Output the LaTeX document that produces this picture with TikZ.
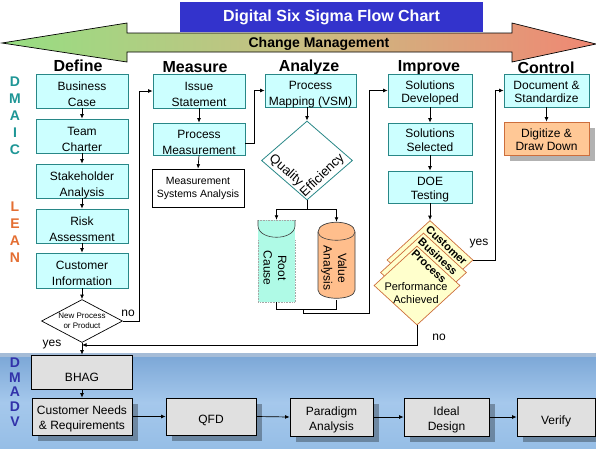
\documentclass[tikz,border=0pt]{standalone}
\usepackage{fontspec}
\setmainfont{Liberation Sans}
\usetikzlibrary{arrows.meta,shapes.geometric,shadows}
\definecolor{cyanfill}{RGB}{204,255,255}
\definecolor{cyanborder}{RGB}{40,135,135}
\definecolor{grayfill}{RGB}{224,224,224}
\definecolor{titleblue}{RGB}{51,51,204}
\definecolor{arrgreen}{RGB}{150,222,130}
\definecolor{arrmid}{RGB}{200,190,130}
\definecolor{arrred}{RGB}{240,135,115}
\definecolor{tealtxt}{RGB}{30,150,150}
\definecolor{orangetxt}{RGB}{228,110,50}
\definecolor{bluetxt}{RGB}{50,50,170}
\definecolor{orfill}{RGB}{255,200,150}
\definecolor{orborder}{RGB}{205,110,60}
\definecolor{yelfill}{RGB}{255,255,204}
\definecolor{rcfill}{RGB}{175,250,230}
\definecolor{vafill}{RGB}{255,190,140}
\definecolor{bandtop}{RGB}{125,168,215}
\definecolor{bandmid}{RGB}{165,200,236}
\definecolor{bandbot}{RGB}{150,190,230}
\definecolor{bandstrip}{RGB}{165,188,215}
\tikzset{
  txt/.style={font=\fontsize{12}{15}\selectfont, align=center},
  cbox/.style={draw=cyanborder, fill=cyanfill, line width=0.7pt, inner sep=0pt, txt},
  gbox/.style={draw=black, fill=grayfill, line width=0.7pt, inner sep=0pt, txt},
  wbox/.style={draw=black, fill=white, line width=0.7pt, inner sep=0pt, align=center, font=\fontsize{10.5}{13}\selectfont},
  obox/.style={draw=orborder, fill=orfill, line width=0.7pt, inner sep=0pt, txt},
  twoa/.style={font=\fontsize{12}{15.7}\selectfont, text height=30.3pt, text depth=0pt},
  twob/.style={font=\fontsize{12}{13.5}\selectfont, text height=24.5pt, text depth=0pt},
  twoc/.style={font=\fontsize{12}{15}\selectfont, text height=26.6pt, text depth=0pt},
  onea/.style={text height=14.6pt, text depth=0pt},
  shad/.style={general shadow={fill=black, fill opacity=0.3, shadow xshift=5.5pt, shadow yshift=-5.5pt}},
  conn/.style={line width=0.7pt, draw=black},
  arr/.style={conn, -{Latex[length=4.5pt,width=3.8pt]}},
  phase/.style={font=\fontsize{16}{16}\selectfont\bfseries, inner sep=0pt},
  letter/.style={font=\fontsize{14}{14}\selectfont\bfseries, inner sep=0pt},
  lbl/.style={font=\fontsize{12}{12}\selectfont, inner sep=0pt},
  ydiam/.style={diamond, draw=orborder, fill=yelfill, line width=0.7pt, inner sep=0pt, minimum width=86pt, minimum height=79pt},
  diagtxt/.style={font=\fontsize{11}{11}\selectfont\bfseries, inner sep=0pt, rotate=-43},
  cyltxt/.style={font=\fontsize{12}{14.5}\selectfont, align=center, inner sep=0pt, rotate=-90},
}
\begin{document}
\begin{tikzpicture}[x=1pt,y=-1pt]
\useasboundingbox (0,0) rectangle (596,448);
\fill[white] (0,0) rectangle (596,448);
% bottom band
\shade[top color=bandtop, bottom color=bandbot, middle color=bandmid] (0,357) rectangle (596,448);
\fill[bandstrip] (0,353) rectangle (596,357);
% change management arrow
\path[draw=black, line width=0.7pt, left color=arrgreen, right color=arrred, middle color=arrmid]
  (2,43) -- (127,23) -- (127,33) -- (512,33) -- (512,23) -- (596,44) -- (512,62) -- (512,52) -- (127,52) -- (127,62) -- cycle;
\node[fill=titleblue, minimum width=303pt, minimum height=30pt, inner sep=0pt, text=white, font=\fontsize{16}{16}\selectfont\bfseries] (title) at (331.5,17) {Digital Six Sigma Flow Chart};
\node[font=\fontsize{14}{14}\selectfont\bfseries, inner sep=0pt] (cm) at (319,43.5) {Change Management};
% phase headers
\node[phase] (hdef) at (78,66) {Define};
\node[phase] (hmea) at (195,67) {Measure};
\node[phase] (hana) at (309,67) {Analyze};
\node[phase] (himp) at (429,68) {Improve};
\node[phase] (hcon) at (546,68) {Control};
% side letters
\foreach \l/\yy [count=\i] in {D/82,M/99,A/116,I/133,C/150} \node[letter, text=tealtxt] (dmaic\i) at (15,\yy) {\l};
\foreach \l/\yy [count=\i] in {L/207,E/224,A/241,N/258} \node[letter, text=orangetxt] (lean\i) at (15,\yy) {\l};
\foreach \l/\yy [count=\i] in {D/363,M/377.5,A/392,D/407,V/421.5} \node[letter, text=bluetxt] (dmadv\i) at (15,\yy) {\l};
% Define
\node[cbox, twoa, minimum width=92pt, minimum height=34pt] (bc) at (82,91) {Business\\Case};
\node[cbox, twoa, minimum width=92pt, minimum height=34pt] (tc) at (82,136) {Team\\Charter};
\node[cbox, twoa, minimum width=92pt, minimum height=34pt] (sa) at (82,181) {Stakeholder\\Analysis};
\node[cbox, twoa, minimum width=92pt, minimum height=34pt] (ra) at (82,226) {Risk\\Assessment};
\node[cbox, twoa, minimum width=92pt, minimum height=35pt] (ci) at (82,270.5) {Customer\\Information};
\node[diamond, draw=black, fill=white, line width=0.7pt, inner sep=0pt, shape aspect=1.88, minimum width=81pt, minimum height=43pt, align=center, font=\fontsize{8}{10}\selectfont] (np) at (82,321) {New Process\\or Product};
% Measure
\node[cbox, twoa, minimum width=92pt, minimum height=34pt] (is) at (199,91) {Issue\\Statement};
\node[cbox, twoa, minimum width=92pt, minimum height=32pt] (pmeas) at (199,139) {Process\\Measurement};
\node[wbox, minimum width=92pt, minimum height=38pt] (msa) at (198,188) {Measurement\\Systems Analysis};
% Analyze
\node[cbox, twoa, minimum width=91pt, minimum height=33pt] (pmap) at (310.5,90.5) {Process\\Mapping (VSM)};
\node[diamond, draw=cyanborder, fill=white, line width=0.8pt, inner sep=0pt, minimum width=91pt, minimum height=79pt] (qe) at (307,160.5) {};
\node[font=\fontsize{13}{13}\selectfont, inner sep=0pt, rotate=-42] (ql) at (286,170.5) {Quality};
\node[font=\fontsize{13}{13}\selectfont, inner sep=0pt, rotate=44] (ef) at (322.5,175.5) {Efficiency};
% Root cause cylinder
\node[minimum width=37pt, minimum height=82pt, inner sep=0pt] (rc) at (276.5,261) {};
\fill[rcfill] (258,220) rectangle (295,302);
\draw[gray!70, densely dotted, line width=0.6pt] (258,240) -- (258,302) -- (295,302) -- (295,240);
\draw[gray!70, densely dotted, line width=0.6pt] (258,220) -- (295,220);
\draw[black!75, line width=0.6pt] (258,220) -- (258,226) .. controls (259,241) and (294,241) .. (295,226) -- (295,220);
\node[cyltxt] (rct) at (275,268) {Root\\Cause};
% Value analysis cylinder
\node[minimum width=37pt, minimum height=78pt, inner sep=0pt] (va) at (336.5,261) {};
\draw[fill=vafill, draw=black!75, line width=0.7pt] (318,232) -- (318,290) .. controls (318,301) and (355,301) .. (355,290) -- (355,232) .. controls (355,219) and (318,219) .. (318,232) -- cycle;
\draw[black!75, line width=0.6pt] (318,232) .. controls (319,243) and (354,243) .. (355,232);
\node[cyltxt] (vat) at (334,268) {Value\\Analysis};
% Improve
\node[cbox, twob, minimum width=84pt, minimum height=33pt] (sd) at (430,90.5) {Solutions\\Developed};
\node[cbox, twob, minimum width=84pt, minimum height=32pt] (ss) at (430,139) {Solutions\\Selected};
\node[cbox, twob, minimum width=84pt, minimum height=32pt] (doe) at (430,187) {DOE\\Testing};
\node[ydiam] (pc) at (430,260) {};
\node[diagtxt] (tcu) at (446.5,245.5) {Customer};
\node[ydiam] (pb) at (423.5,272.5) {};
\node[diagtxt] (tbu) at (438,256.5) {Business};
\node[ydiam] (pp) at (417,285.5) {};
\node[diagtxt] (tpr) at (429,266.5) {Process};
\node[font=\fontsize{11}{12.5}\selectfont, align=center, inner sep=0pt] (tpa) at (416,293) {Performance\\Achieved};
% Control
\node[cbox, twob, minimum width=85pt, minimum height=33pt] (ds) at (546.5,90.5) {Document \&\\Standardize};
\node[obox, twob, shad, minimum width=85pt, minimum height=33pt] (dd) at (546.5,138.5) {Digitize \&\\Draw Down};
% DMADV
\node[gbox, text height=18pt, text depth=0pt, minimum width=101pt, minimum height=34pt] (bhag) at (82,372) {BHAG};
\node[gbox, twoc, shad, minimum width=100pt, minimum height=37pt] (cn) at (82,416.5) {Customer Needs\\\& Requirements};
\node[gbox, onea, shad, minimum width=90pt, minimum height=37pt] (qfd) at (211,416.5) {QFD};
\node[gbox, twoc, shad, minimum width=83pt, minimum height=38pt] (par) at (331.5,417) {Paradigm\\Analysis};
\node[gbox, twoc, shad, minimum width=85pt, minimum height=38pt] (id) at (446.5,417) {Ideal\\Design};
\node[gbox, onea, shad, minimum width=78pt, minimum height=38pt] (ver) at (556,417) {Verify};
% labels
\node[lbl] (no1) at (128,313) {no};
\node[lbl] (yes1) at (52,345) {yes};
\node[lbl] (yes2) at (479,244) {yes};
\node[lbl] (no2) at (439,337) {no};
% connectors
\draw[arr] (bc.south) -- (tc.north);
\draw[arr] (tc.south) -- (sa.north);
\draw[arr] (sa.south) -- (ra.north);
\draw[arr] (ra.south) -- (ci.north);
\draw[arr] (ci.south) -- (np.north);
\draw[arr] (np.south) -- (bhag.north);
\draw[arr] (np.east) -- ++(16,0) |- (is.west);
\draw[arr] (is.south) -- (pmeas.north);
\draw[arr] (pmeas.south) -- (msa.north);
\draw[arr] ([yshift=-4pt]pmeas.east) -- ++(9,0) |- (pmap.west);
\draw[arr] (qe.north |- pmap.south) -- (qe.north);
\draw[conn] (qe.south) -- ++(0,9) coordinate (br);
\draw[arr] (br) -| (rc.north);
\draw[arr] (br) -| (va.north);
\draw[conn] (rc.south) -- ++(0,7) -| (va.south);
\coordinate (j) at (303,309);
\draw[arr] (j) -- ++(0,4) -- ++(66,0) |- (sd.west);
\draw[arr] (sd.south) -- (ss.north);
\draw[arr] (ss.south) -- (doe.north);
\draw[arr] (doe.south) -- (pc.north);
\draw[arr] (pc.east) -- ++(22,0) |- (ds.west);
\coordinate (nj) at (82,345);
\draw[arr] (pp.south) |- (nj);
\draw[arr] (ds.south) -- (dd.north);
\draw[arr] (bhag.south) -- (cn.north);
\draw[arr] (cn.east) -- (qfd.west);
\draw[arr] (qfd.east) -- (par.west);
\draw[arr] (par.east) -- (id.west);
\draw[arr] (id.east) -- (ver.west);
\end{tikzpicture}
\end{document}
